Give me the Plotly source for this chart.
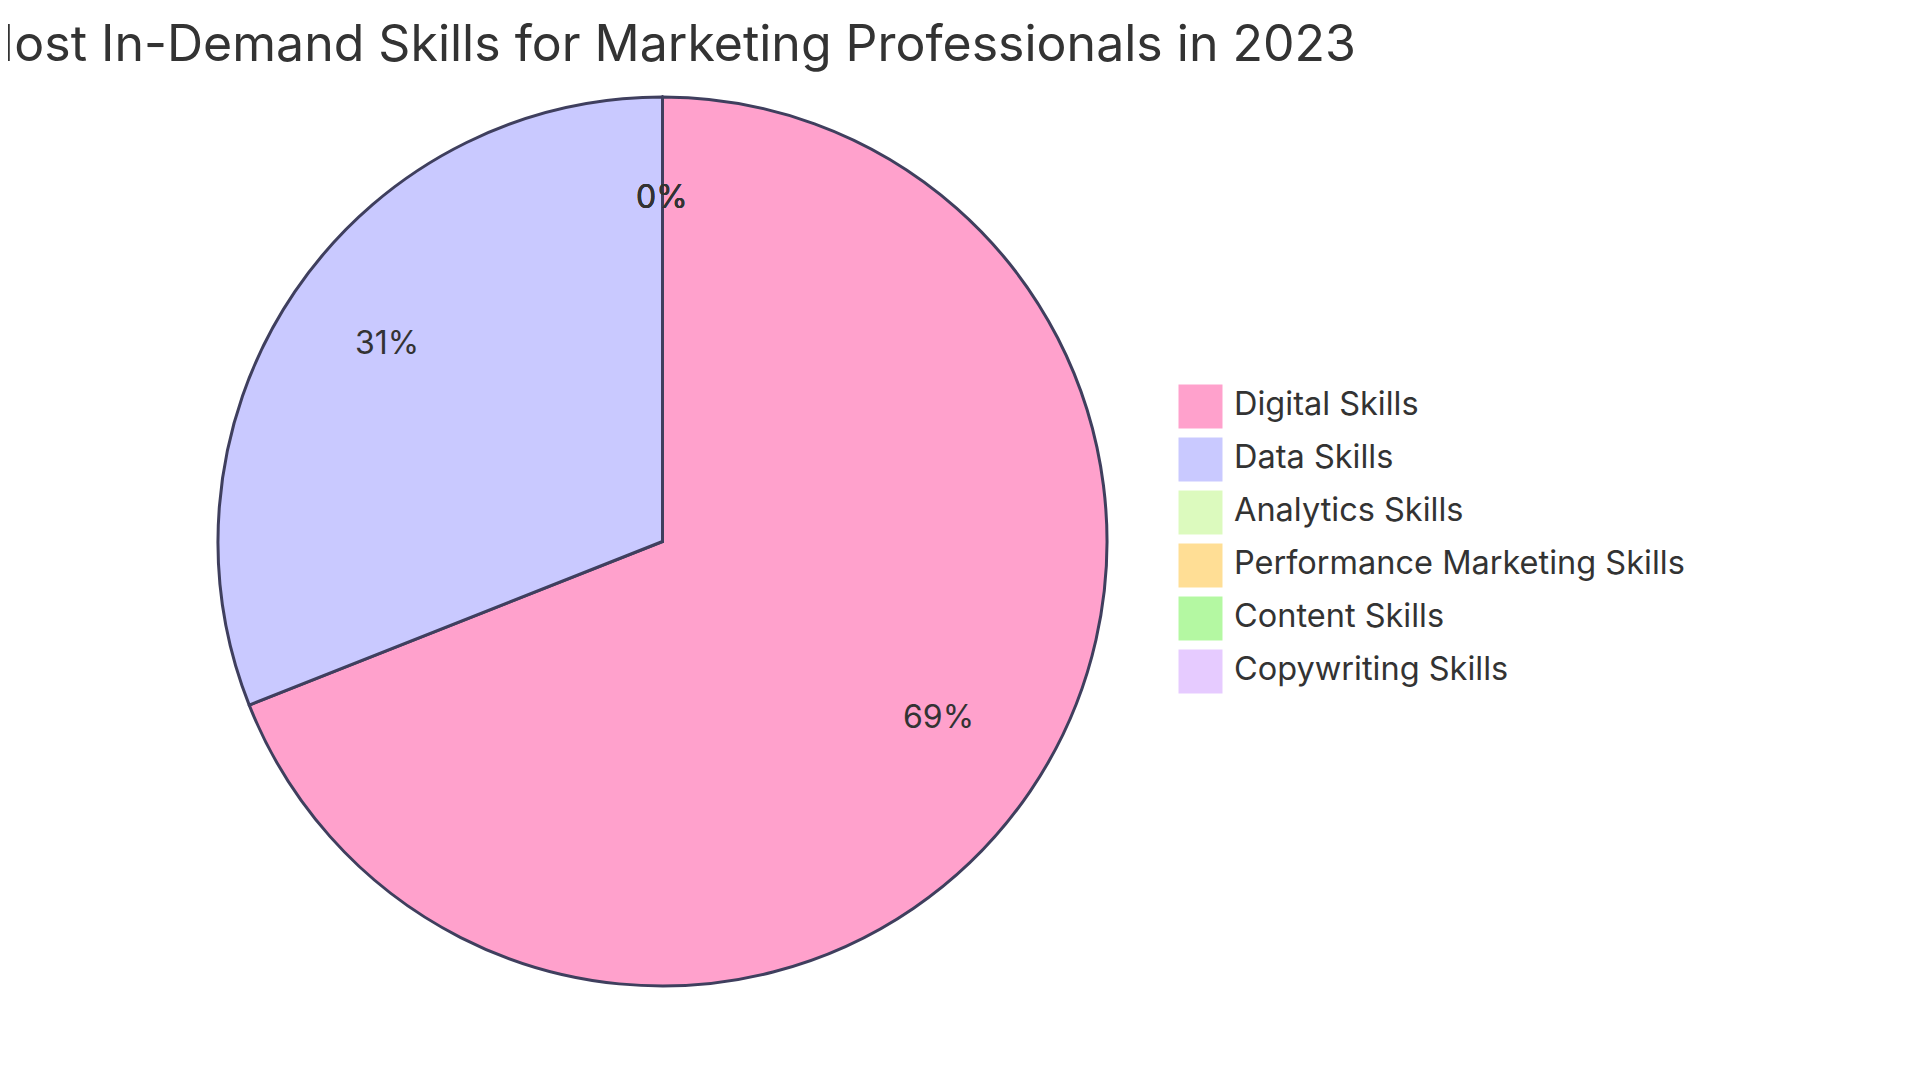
import math
import plotly.graph_objects as go

# data
skills = ['Digital Skills', 'Data Skills', 'Analytics Skills',
          'Performance Marketing Skills', 'Content Skills', 'Copywriting Skills']
shares = [69, 31, 0, 0, 0, 0]
colors = ['#FFA1CC', '#C9C9FF', '#DCFABE', '#FFDE95', '#B4F8A2', '#E6CBFF']

title = 'Most In-Demand Skills for Marketing Professionals in 2023'
text_color = '#333333'
edge_color = '#3F3F5E'
font_name = 'Inter'

W, H = 1920, 1080

# pie box in screen pixels (left, right, top, bottom)
pie_l, pie_r, pie_t, pie_b = 210, 1099, 89, 978
pie_x = [pie_l / W, pie_r / W]
pie_y = [1 - pie_b / H, 1 - pie_t / H]

fig = go.Figure()

fig.add_trace(go.Pie(
    labels=skills,
    values=shares,
    marker=dict(colors=colors, line=dict(color=edge_color, width=3)),
    sort=False,
    direction='clockwise',
    rotation=0,
    textinfo='none',
    hoverinfo='label+percent',
    showlegend=False,
    domain=dict(x=pie_x, y=pie_y),
))

# percent labels like mermaid: 0.75 r along the middle of each slice
total = sum(shares)
cx = (pie_l + pie_r) / 2
cy = (pie_t + pie_b) / 2
r = min(pie_r - pie_l, pie_b - pie_t) / 2
start = 0.0
for name, v in zip(skills, shares):
    frac = v / total
    mid = (start + frac / 2) * 2 * math.pi
    start += frac
    lx = cx + 0.75 * r * math.sin(mid)
    ly = cy - 0.75 * r * math.cos(mid)
    fig.add_annotation(
        x=lx / W, y=1 - ly / H, xref='paper', yref='paper',
        text=f'{round(frac * 100)}%', showarrow=False,
        xanchor='center', yanchor='middle', yshift=12,
        font=dict(family=font_name, size=32, color=text_color),
    )

# legend as a scatter on its own hidden axes
# (white outline trims the square to ~44px and pushes the text a bit right)
fig.add_trace(go.Scatter(
    x=[0] * len(skills),
    y=skills,
    mode='markers+text',
    marker=dict(symbol='square', size=52, color=colors,
                line=dict(width=8, color='white')),
    text=skills,
    textposition='middle right',
    textfont=dict(family=font_name, size=32.5, color=text_color),
    cliponaxis=False,
    hoverinfo='skip',
    showlegend=False,
    xaxis='x2', yaxis='y2',
))

leg_top = 372
leg_bot = 690
fig.update_layout(
    width=W, height=H,
    margin=dict(l=0, r=0, t=0, b=0),
    paper_bgcolor='white',
    plot_bgcolor='white',
    font=dict(family=font_name, color=text_color),
    title=dict(
        text=title,
        x=cx / W, xanchor='center',
        y=1 - 35 / H, yanchor='middle',
        font=dict(family=font_name, size=50, color=text_color),
    ),
    xaxis2=dict(domain=[1144 / W, 1.0], range=[-1, 15], visible=False, fixedrange=True),
    yaxis2=dict(domain=[1 - leg_bot / H, 1 - leg_top / H], range=[5.5, -0.5], type='category',
                visible=False, fixedrange=True),
)

fig.write_html('out.html')
